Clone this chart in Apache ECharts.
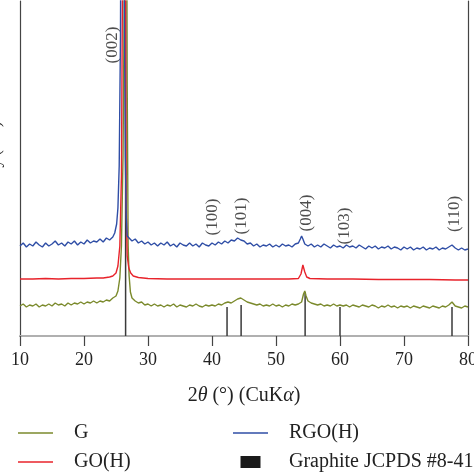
<!DOCTYPE html>
<html>
<head>
<meta charset="utf-8">
<script src="https://cdn.jsdelivr.net/npm/echarts/dist/echarts.min.js"></script>
<style>
  html, body { margin: 0; padding: 0; background: #fff; }
  #chart { width: 474px; height: 474px; }
</style>
</head>
<body>
<div id="chart"></div>
<script>
// 2theta (deg) / intensity (a.u., offset stacked as in the figure)
const gData = [
  [10, 30], [10.5, 32], [11, 29], [11.5, 31], [12, 30], [12.5, 32], [13, 29], [13.5, 31], [14, 30], [14.5, 32],
  [15, 30], [15.5, 33], [16, 31], [16.5, 32], [17, 30], [17.5, 33], [18, 31], [18.5, 33], [19, 32], [19.5, 34],
  [20, 32], [20.5, 34], [21, 33], [21.5, 35], [22, 33], [22.5, 35], [23, 34], [23.5, 36], [24, 35], [24.5, 38],
  [25, 40], [25.3, 45], [25.6, 58], [25.85, 90], [26.1, 180], [26.3, 350], [26.55, 700], [26.75, 250], [26.9, 90],
  [27.05, 60], [27.25, 44], [27.5, 38], [28, 35], [28.5, 33], [29, 34], [29.5, 31], [30, 32], [30.5, 30], [31, 32],
  [31.5, 30], [32, 31], [32.5, 29], [33, 31], [33.5, 30], [34, 32], [34.5, 29], [35, 31], [35.5, 30], [36, 29],
  [36.5, 31], [37, 30], [37.5, 32], [38, 30], [38.5, 29], [39, 31], [39.5, 30], [40, 31], [40.5, 30], [41, 32],
  [41.5, 31], [42, 33], [42.5, 34], [43, 33], [43.5, 35], [44, 37], [44.5, 38], [45, 36], [45.5, 34], [46, 33],
  [46.5, 32], [47, 31], [47.5, 32], [48, 30], [48.5, 31], [49, 30], [49.5, 32], [50, 30], [50.5, 31], [51, 29],
  [51.5, 31], [52, 30], [52.5, 32], [53, 31], [53.5, 32], [54, 34], [54.3, 42], [54.5, 45], [54.7, 40], [55, 35],
  [55.5, 33], [56, 32], [56.5, 31], [57, 32], [57.5, 30], [58, 31], [58.5, 30], [59, 32], [59.5, 30], [60, 31],
  [60.5, 30], [61, 31], [61.5, 29], [62, 31], [62.5, 30], [63, 29], [63.5, 31], [64, 30], [64.5, 29], [65, 31],
  [65.5, 30], [66, 28], [66.5, 30], [67, 29], [67.5, 31], [68, 29], [68.5, 30], [69, 28], [69.5, 30], [70, 29],
  [70.5, 30], [71, 28], [71.5, 30], [72, 29], [72.5, 28], [73, 30], [73.5, 29], [74, 28], [74.5, 30], [75, 29],
  [75.5, 28], [76, 30], [76.5, 29], [77, 31], [77.5, 34], [78, 30], [78.5, 29], [79, 28], [79.5, 30], [80, 29]
]

const goData = [
  [10, 57], [12, 57], [14, 57.5], [16, 57], [18, 57.5], [20, 57.5], [22, 58], [23, 58], [24, 59], [24.5, 60],
  [25, 63], [25.3, 70], [25.6, 90], [25.85, 160], [26.05, 400], [26.25, 900], [26.45, 400], [26.6, 130],
  [26.75, 80], [27, 68], [27.3, 63], [27.7, 60], [28.5, 58.5], [30, 57.5], [33, 57], [36, 57], [40, 57],
  [44, 57], [48, 57], [52, 57], [53.5, 57.5], [53.9, 62], [54.2, 71], [54.5, 64], [54.8, 59], [55.3, 57.5],
  [58, 57], [62, 57], [66, 56.5], [70, 56.5], [74, 56.5], [78, 56], [80, 56]
]

const rgoData = [
  [10, 90], [10.5, 93], [11, 89], [11.5, 92], [12, 90], [12.5, 94], [13, 91], [13.5, 89], [14, 93], [14.5, 90],
  [15, 92], [15.5, 95], [16, 91], [16.5, 93], [17, 90], [17.5, 94], [18, 92], [18.5, 95], [19, 91], [19.5, 94],
  [20, 92], [20.5, 96], [21, 93], [21.5, 95], [22, 94], [22.5, 97], [23, 94], [23.5, 98], [24, 96], [24.5, 99],
  [24.8, 103], [25.1, 112], [25.3, 128], [25.5, 170], [25.7, 300], [25.85, 600], [26, 900], [26.15, 600],
  [26.3, 340], [26.45, 180], [26.6, 120], [26.75, 100], [27, 98], [27.5, 95], [28, 97], [28.5, 93], [29, 95],
  [29.5, 92], [30, 94], [30.5, 91], [31, 93], [31.5, 90], [32, 93], [32.5, 91], [33, 94], [33.5, 90], [34, 92],
  [34.5, 89], [35, 93], [35.5, 91], [36, 90], [36.5, 93], [37, 90], [37.5, 92], [38, 89], [38.5, 93], [39, 91],
  [39.5, 90], [40, 93], [40.5, 91], [41, 94], [41.5, 92], [42, 95], [42.5, 93], [43, 96], [43.5, 95], [44, 98],
  [44.5, 96], [45, 95], [45.5, 92], [46, 93], [46.5, 90], [47, 92], [47.5, 89], [48, 91], [48.5, 90], [49, 92],
  [49.5, 89], [50, 91], [50.5, 89], [51, 92], [51.5, 90], [52, 91], [52.5, 89], [53, 92], [53.5, 93], [53.8, 97],
  [54, 100], [54.2, 97], [54.5, 92], [55, 90], [55.5, 92], [56, 89], [56.5, 91], [57, 89], [57.5, 92], [58, 90],
  [58.5, 88], [59, 91], [59.5, 89], [60, 90], [60.5, 88], [61, 91], [61.5, 89], [62, 90], [62.5, 88], [63, 91],
  [63.5, 89], [64, 87], [64.5, 90], [65, 88], [65.5, 90], [66, 87], [66.5, 89], [67, 88], [67.5, 90], [68, 87],
  [68.5, 89], [69, 88], [69.5, 86], [70, 89], [70.5, 87], [71, 89], [71.5, 86], [72, 88], [72.5, 87], [73, 89],
  [73.5, 86], [74, 88], [74.5, 87], [75, 89], [75.5, 86], [76, 88], [76.5, 87], [77, 89], [77.5, 91], [78, 88],
  [78.5, 86], [79, 88], [79.5, 86], [80, 87]
]

// graphite reference sticks
const refPos = [26.5, 42.35, 44.55, 54.55, 60.0, 77.5]
const refHeight = [1000, 29, 31, 44, 29, 29]

// (hkl) annotations
const hklLabels = ['(002)', '(100)', '(101)', '(004)', '(103)', '(110)']
const hklPos = [24.38, 40.16, 44.69, 54.84, 60.78, 77.97]
const hklY = [291, 119, 120, 123, 110, 122]

const xTicks = [10, 20, 30, 40, 50, 60, 70, 80]

const serif = '"Liberation Serif", "DejaVu Serif", serif'
const textColor = '#222'
const axisColor = '#444'

const lineIcon = 'path://M0,0H36V1.4H0Z'
const boxIcon = 'path://M0,0H20V12H0Z'

const chart = echarts.init(document.getElementById('chart'))

const lineSeries = (name, data, color) => ({
  name,
  type: 'line',
  data,
  color,
  showSymbol: false,
  clip: true,
  lineStyle: { width: 1.4, color },
  emphasis: { disabled: true }
})

const legendBase = {
  orient: 'vertical',
  top: 422,
  height: 60,
  padding: 0,
  itemWidth: 35,
  itemHeight: 12,
  itemGap: 7,
  selectedMode: false,
  textStyle: {
    fontFamily: serif,
    fontSize: 20,
    color: textColor,
    lineHeight: 22,
    padding: [0, 0, 0, 16]
  }
}

chart.setOption({
  animation: false,
  grid: { left: 20, right: 6, top: 1, bottom: 138, containLabel: false, outerBoundsMode: 'none' },
  legend: [
    Object.assign({}, legendBase, {
      left: 18,
      data: [
        { name: 'G', icon: lineIcon },
        { name: 'GO(H)', icon: lineIcon }
      ]
    }),
    Object.assign({}, legendBase, {
      left: 233,
      data: [
        { name: 'RGO(H)', icon: lineIcon },
        { name: 'Graphite JCPDS #8-415', icon: boxIcon, itemStyle: { color: '#1a1a1a' } }
      ]
    })
  ],
  xAxis: [
    {
      type: 'value',
      min: xTicks[0],
      max: xTicks[xTicks.length - 1],
      interval: 10,
      name: '{n|2}{i|θ}{n| (°) (CuK}{i|α}{n|)}',
      nameLocation: 'middle',
      nameGap: 50,
      nameTextStyle: {
        rich: {
          n: { fontFamily: serif, fontSize: 20, color: textColor },
          i: { fontFamily: serif, fontSize: 20, color: textColor, fontStyle: 'italic' }
        }
      },
      axisLine: { show: true, lineStyle: { color: axisColor, width: 1.2 } },
      axisTick: { show: true, inside: false, length: 10, lineStyle: { color: axisColor, width: 1.2 } },
      axisLabel: { color: textColor, fontFamily: serif, fontSize: 18, margin: 15 },
      splitLine: { show: false }
    },
    {
      type: 'value',
      position: 'top',
      min: 10,
      max: 80,
      axisLine: { show: true, lineStyle: { color: '#b0b0b0', width: 2 } },
      axisTick: { show: false },
      axisLabel: { show: false },
      splitLine: { show: false }
    }
  ],
  yAxis: [
    {
      type: 'value',
      min: 0,
      max: 335,
      name: 'Intensity (a.u.)',
      nameLocation: 'middle',
      nameGap: 16,
      nameTextStyle: { fontFamily: serif, fontSize: 16, color: textColor },
      axisLine: { show: true, lineStyle: { color: axisColor, width: 1.2 } },
      axisTick: { show: false },
      axisLabel: { show: false },
      splitLine: { show: false }
    },
    {
      type: 'value',
      position: 'right',
      min: 0,
      max: 335,
      axisLine: { show: true, lineStyle: { color: axisColor, width: 1.2 } },
      axisTick: { show: false },
      axisLabel: { show: false },
      splitLine: { show: false }
    }
  ],
  series: [
    lineSeries('G', gData, '#7b8a2c'),
    lineSeries('GO(H)', goData, '#e8232b'),
    lineSeries('RGO(H)', rgoData, '#2f4ea6'),
    {
      name: 'Graphite JCPDS #8-415',
      type: 'bar',
      barWidth: 1.5,
      clip: true,
      itemStyle: { color: '#3a3a3a' },
      data: refPos.map((x, i) => [x, refHeight[i]]),
      emphasis: { disabled: true }
    },
    {
      name: 'hkl',
      type: 'scatter',
      symbolSize: 0,
      silent: true,
      data: hklPos.map((x, i) => [x, hklY[i], hklLabels[i]]),
      label: {
        show: true,
        position: 'inside',
        rotate: 90,
        formatter: (p) => p.data[2],
        fontFamily: serif,
        fontSize: 17,
        color: textColor
      }
    }
  ]
})
</script>
</body>
</html>
